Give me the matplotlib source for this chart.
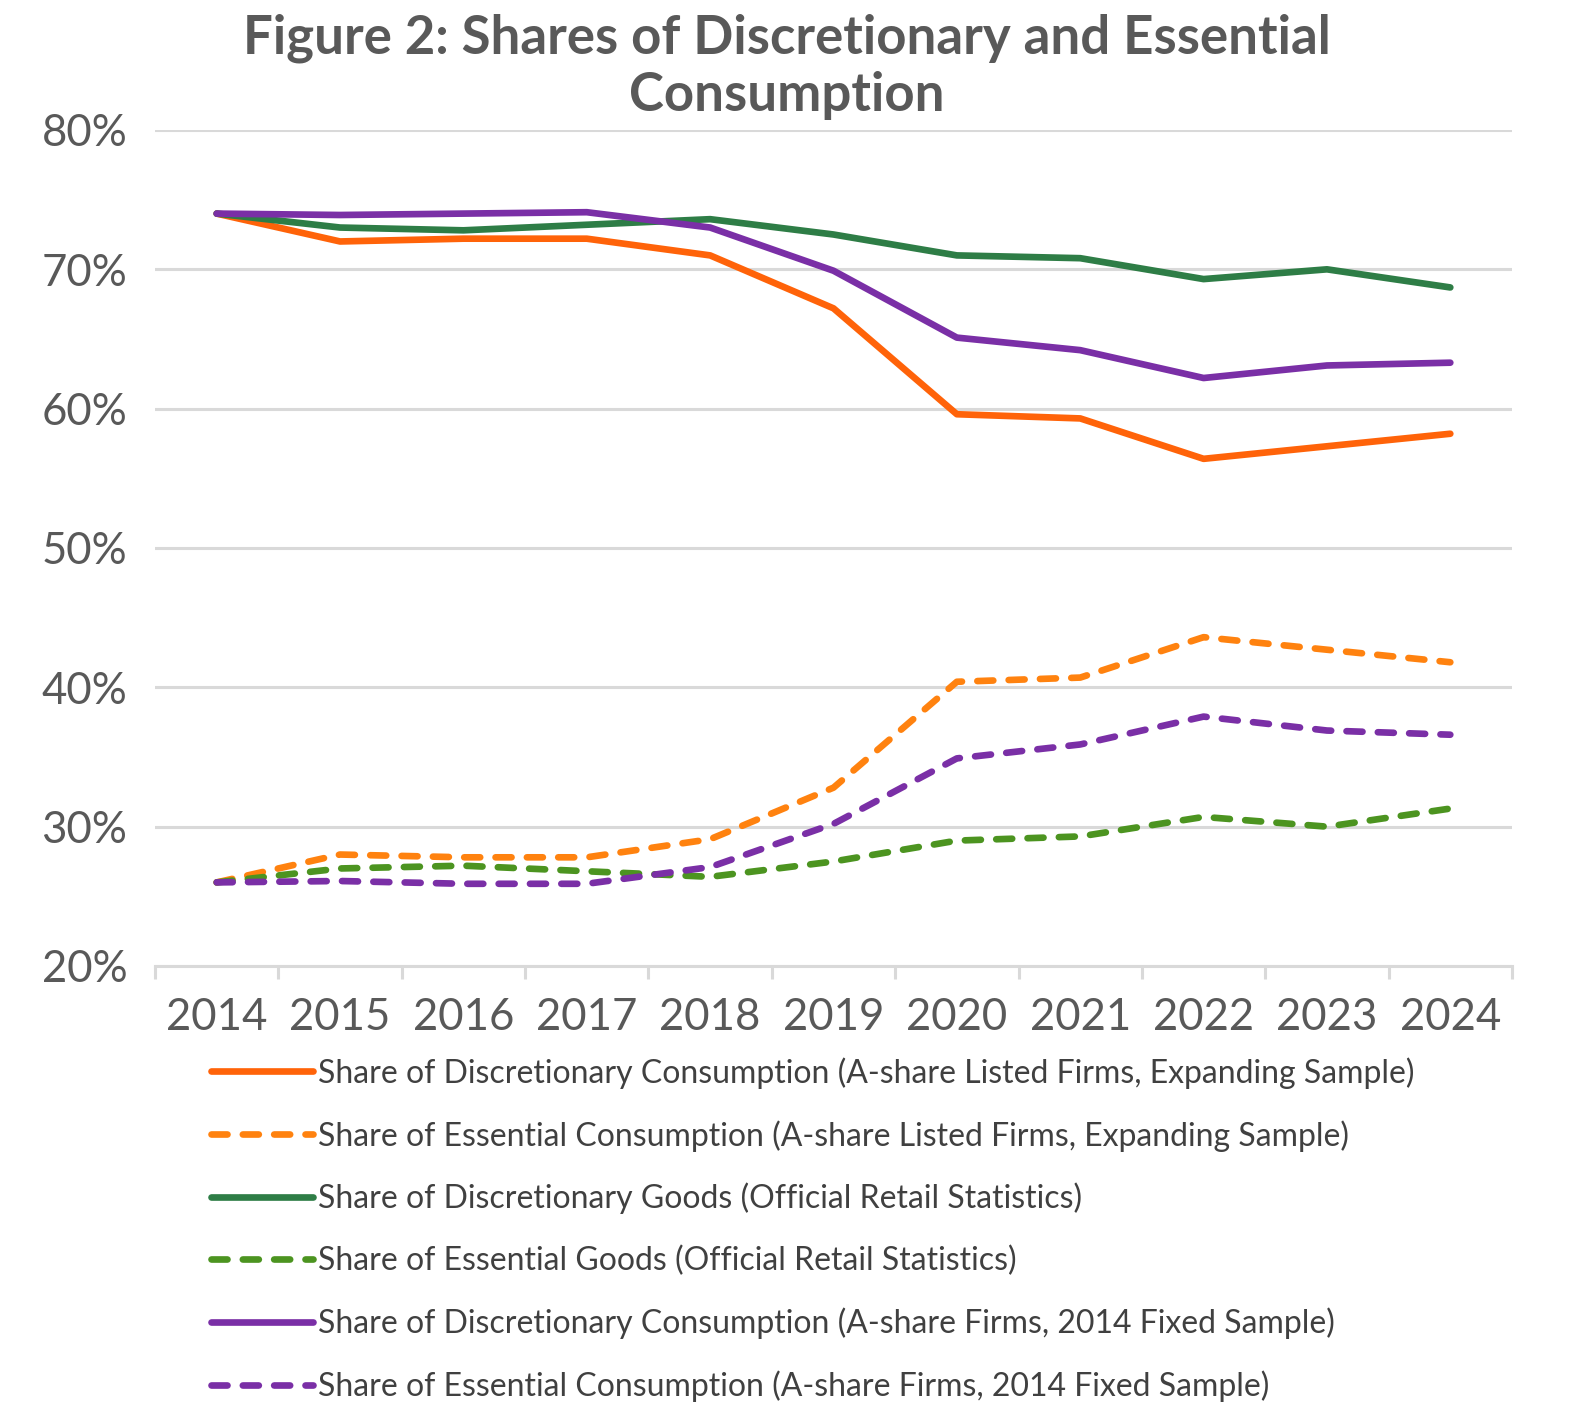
import matplotlib
matplotlib.use("Agg")
import matplotlib.pyplot as plt
from matplotlib.ticker import FixedLocator, FuncFormatter

years = ["2014", "2015", "2016", "2017", "2018", "2019", "2020", "2021", "2022", "2023", "2024"]

disc_listed = [74.0, 72.0, 72.2, 72.2, 71.0, 67.2, 59.6, 59.3, 56.4, 57.3, 58.2]
ess_listed = [26.0, 28.0, 27.8, 27.8, 29.1, 32.8, 40.4, 40.7, 43.6, 42.7, 41.8]
disc_retail = [74.0, 73.0, 72.8, 73.2, 73.6, 72.5, 71.0, 70.8, 69.3, 70.0, 68.7]
ess_retail = [26.0, 27.0, 27.2, 26.8, 26.4, 27.5, 29.0, 29.3, 30.7, 30.0, 31.3]
disc_fixed = [74.0, 73.9, 74.0, 74.1, 73.0, 69.9, 65.1, 64.2, 62.2, 63.1, 63.3]
ess_fixed = [26.0, 26.1, 25.9, 25.9, 27.1, 30.2, 34.9, 35.9, 37.9, 36.9, 36.6]

labels = [
    "Share of Discretionary Consumption (A-share Listed Firms, Expanding Sample)",
    "Share of Essential Consumption (A-share Listed Firms, Expanding Sample)",
    "Share of Discretionary Goods (Official Retail Statistics)",
    "Share of Essential Goods (Official Retail Statistics)",
    "Share of Discretionary Consumption (A-share Firms, 2014 Fixed Sample)",
    "Share of Essential Consumption (A-share Firms, 2014 Fixed Sample)",
]

series = [disc_listed, ess_listed, disc_retail, ess_retail, disc_fixed, ess_fixed]
colors = ["#FF6309", "#FF820F", "#2E7D46", "#4C9420", "#7A2FA6", "#7A2FA6"]
dashed = [False, True, False, True, False, True]

plt.rcParams["font.family"] = ["Lato", "DejaVu Sans"]

fig = plt.figure(figsize=(15.74, 14.10), dpi=100)
ax = fig.add_axes([155 / 1574, 1 - 966 / 1410, (1512 - 155) / 1574, (966 - 130) / 1410])

x = list(range(len(years)))
for s, c, d, lab in zip(series, colors, dashed, labels):
    if d:
        ax.plot(x, s, color=c, lw=4.8, label=lab, dashes=(2.4, 2.3),
                dash_capstyle="round", solid_joinstyle="round", zorder=3)
    else:
        ax.plot(x, s, color=c, lw=4.8, label=lab, solid_capstyle="round",
                solid_joinstyle="round", zorder=3)

ax.set_xlim(-0.5, len(years) - 0.5)
ax.set_ylim(20, 80)
ax.set_yticks([20, 30, 40, 50, 60, 70, 80])
ax.yaxis.set_major_formatter(FuncFormatter(lambda v, p: f"{int(v)}%"))
ax.set_xticks(x)
ax.set_xticklabels(years)
ax.xaxis.set_minor_locator(FixedLocator([i - 0.5 for i in range(len(years) + 1)]))

ax.grid(axis="y", color="#D9D9D9", lw=2.2, zorder=0)
for sp in ["top", "right", "left"]:
    ax.spines[sp].set_visible(False)
ax.spines["bottom"].set_color("#D9D9D9")
ax.spines["bottom"].set_linewidth(2.2)
ax.spines["bottom"].set_zorder(1)

ax.tick_params(axis="y", length=0, pad=20, labelsize=31.5, labelcolor="#595959")
ax.tick_params(axis="x", which="major", length=0, pad=22, labelsize=31.5, labelcolor="#595959")
ax.tick_params(axis="x", which="minor", length=9, width=2.2, color="#D9D9D9")

fig.text(0.5, 1 - 67 / 1410, "Figure 2: Shares of Discretionary and Essential\nConsumption",
         ha="center", va="center", fontsize=38, fontweight="bold", color="#595959",
         linespacing=1.2)

leg = ax.legend(loc="upper left", bbox_to_anchor=(211 / 1574, 1 - 1057 / 1410),
                bbox_transform=fig.transFigure, frameon=False, fontsize=23,
                handlelength=3.2, handletextpad=0.16, labelspacing=0.98,
                borderpad=0, borderaxespad=0)
for t in leg.get_texts():
    t.set_color("#404040")

fig.savefig("out.png", dpi=100, facecolor="white")
